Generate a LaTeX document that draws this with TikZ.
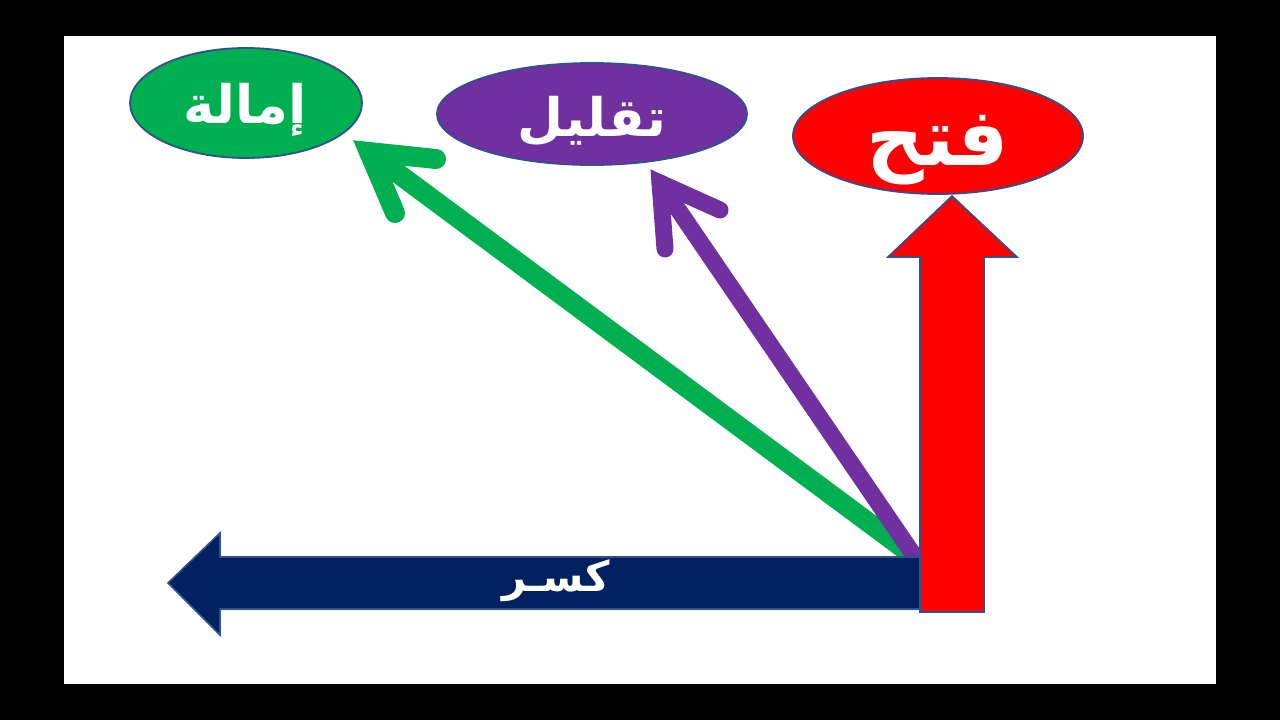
\documentclass[tikz,border=0pt]{standalone}
\usepackage{fontspec}
\usetikzlibrary{shapes.geometric}
\TeXXeTstate=1
\newfontfamily\arabicfont[Script=Arabic]{DejaVu Sans}
\definecolor{pgreen}{HTML}{00B050}
\definecolor{ppurple}{HTML}{7030A0}
\definecolor{pred}{HTML}{FF0000}
\definecolor{pnavy}{HTML}{002060}
\definecolor{pedge}{HTML}{2F528F}
\tikzset{
  oval/.style={ellipse, draw=pedge, line width=1.8pt, inner sep=0pt},
  lbl/.style={text=white, font=\arabicfont\bfseries},
  barrow/.style={line width=#1, line cap=round, line join=miter},
  blockarrow/.style={draw=pedge, line width=1.6pt, line join=miter}
}
\begin{document}
\begin{tikzpicture}[x=1pt,y=-1pt]
\fill[black] (0,0) rectangle (1280,720);
\fill[white] (64,36) rectangle (1216,684);
\useasboundingbox (0,0) rectangle (1280,720);

% ovals
\node[oval, fill=pgreen, minimum width=232pt, minimum height=110pt] (imala) at (246,103) {};
\node[oval, fill=ppurple, minimum width=310pt, minimum height=102pt] (taqlil) at (592,114) {};
\node[oval, fill=pred, minimum width=290pt, minimum height=116pt] (fath) at (938,136) {};

\node[lbl, font=\arabicfont\bfseries\fontsize{53}{58}\selectfont] (timala) at (245,110) {\beginR إمالة\endR};
\node[lbl, font=\arabicfont\bfseries\fontsize{53}{58}\selectfont] (ttaqlil) at (592,121) {\beginR تقليل\endR};
\node[lbl, font=\arabicfont\bfseries\fontsize{80}{86}\selectfont] (tfath) at (938,150) {\beginR فتح\endR};

% line arrows
\coordinate (o) at (915,557);
\coordinate (gv) at (369,152);
\coordinate (ga1) at (436,159);
\coordinate (ga2) at (395,213);
\coordinate (pv) at (660,183);
\coordinate (pa1) at (720,210);
\coordinate (pa2) at (665,249);
\draw[barrow=20pt, draw=pgreen] (o) -- (gv);
\draw[barrow=20pt, draw=pgreen] (ga1) -- (gv) -- (ga2);
\draw[barrow=17pt, draw=ppurple] (o) -- (pv);
\draw[barrow=17pt, draw=ppurple] (pa1) -- (pv) -- (pa2);

% navy block arrow
\draw[blockarrow, fill=pnavy] (920,557) -- (220,557) -- (220,533) -- (168,583) -- (220,635) -- (220,609) -- (920,609) -- cycle;
\node[lbl, font=\arabicfont\bfseries\fontsize{42}{48}\selectfont] (tkasr) at (556,581) {\beginR كسـر\endR};

% red block arrow
\draw[blockarrow, fill=pred] (920,612) -- (920,257) -- (888,257) -- (952,196) -- (1017,257) -- (984,257) -- (984,612) -- cycle;
\end{tikzpicture}
\end{document}
